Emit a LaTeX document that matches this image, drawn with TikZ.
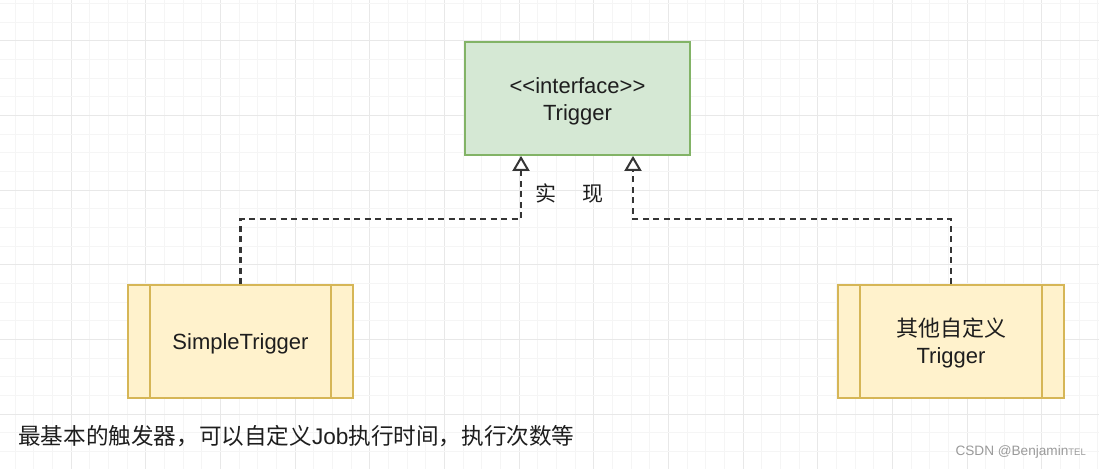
\documentclass[tikz,border=0pt]{standalone}
\usepackage{fontspec}
\setmainfont{Liberation Sans}
\newfontfamily\cjk{Noto Sans CJK SC}
\usetikzlibrary{arrows.meta}
\definecolor{gfill}{HTML}{D5E8D4}
\definecolor{gline}{HTML}{82B366}
\definecolor{yfill}{HTML}{FFF2CC}
\definecolor{yline}{HTML}{D6B656}
\definecolor{gridminor}{HTML}{F5F5F5}
\definecolor{gridmajor}{HTML}{E8E8E8}
\definecolor{txt}{HTML}{1E1E1E}
\definecolor{wm}{HTML}{9A9A9A}
\newcommand{\lowtext}[1]{\raisebox{-3pt}[\height][\depth]{\begin{tabular}{@{}c@{}}#1\end{tabular}}}
\tikzset{
  minorgrid/.style={draw=gridminor, line width=0.9pt},
  majorgrid/.style={draw=gridmajor, line width=0.9pt},
  ifacebox/.style={draw=gline, fill=gfill, line width=1.8pt, minimum width=225pt, minimum height=113pt, align=center, text=txt, font=\fontsize{22}{27}\selectfont, inner sep=0pt},
  procbox/.style={draw=yline, fill=yfill, line width=1.8pt, minimum width=225pt, minimum height=113pt, align=center, text=txt, font=\fontsize{22}{27}\selectfont, inner sep=0pt},
  procline/.style={draw=yline, line width=1.8pt},
  realize/.style={draw=txt!90!white, line width=2.2pt, dash pattern=on 6pt off 4.5pt, -{Triangle[open, length=15pt, width=17pt, line width=2pt, fill=white]}},
  plaintext/.style={text=txt, font=\fontsize{22}{27}\selectfont, inner sep=0pt},
}
\begin{document}
\begin{tikzpicture}[x=1pt,y=-1pt]
\useasboundingbox (0,0) rectangle (1099,469);
\fill[white] (0,0) rectangle (1099,469);
% grid
\foreach \i in {0,...,58} {
  \pgfmathtruncatemacro{\m}{mod(\i+1,4)}
  \ifnum\m=0
    \draw[majorgrid] ({15+18.667*\i},0) -- ++(0,469);
  \else
    \draw[minorgrid] ({15+18.667*\i},0) -- ++(0,469);
  \fi
}
\foreach \i in {0,...,25} {
  \pgfmathtruncatemacro{\m}{mod(\i+2,4)}
  \ifnum\m=0
    \draw[majorgrid] (0,{3.3+18.667*\i}) -- ++(1099,0);
  \else
    \draw[minorgrid] (0,{3.3+18.667*\i}) -- ++(1099,0);
  \fi
}
% nodes
\node[ifacebox] (iface) at (577.5,98.5) {\lowtext{<{}<interface>{}>\\Trigger}};
\node[procbox] (st) at (240.5,341.5) {\lowtext{SimpleTrigger}};
\draw[procline] ([xshift=23pt]st.north west) -- ([xshift=23pt]st.south west);
\draw[procline] ([xshift=-23pt]st.north east) -- ([xshift=-23pt]st.south east);
\node[procbox, minimum width=226pt] (ot) at (951,341.5) {\lowtext{{\cjk 其他自定义}\\Trigger}};
\draw[procline] ([xshift=23pt]ot.north west) -- ([xshift=23pt]ot.south west);
\draw[procline] ([xshift=-23pt]ot.north east) -- ([xshift=-23pt]ot.south east);
% connectors
\coordinate (ia) at ([xshift=-56.5pt]iface.south);
\coordinate (ib) at ([xshift=55.5pt]iface.south);
\draw[realize] (st.north) -- ++(0,-65) -| (ia);
\draw[realize] (ot.north) -- ++(0,-65) -| (ib);
\node[plaintext, font=\cjk\fontsize{21}{25}\selectfont] (lbl) at (569,193) {实\hspace{26pt}现};
% texts
\node[plaintext, anchor=west, font=\fontsize{22.6}{27}\selectfont] (desc) at (18,436) {{\cjk 最基本的触发器，可以自定义}Job{\cjk 执行时间，执行次数等}};
\node[anchor=east, text=wm, inner sep=0pt, font=\fontsize{13.6}{15}\selectfont] (mark) at (1086,452) {CSDN @Benjamin{\fontsize{9.5}{10}\selectfont TEL}};
\end{tikzpicture}
\end{document}
